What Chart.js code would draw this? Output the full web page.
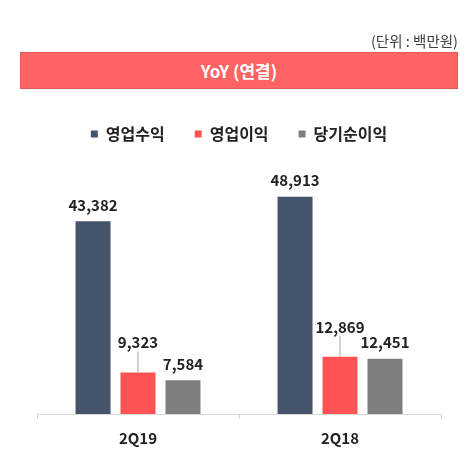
<!DOCTYPE html>
<html>
<head>
<meta charset="utf-8">
<script src="https://cdn.jsdelivr.net/npm/chart.js@4"></script>
<style>
  html, body { margin: 0; padding: 0; background: #fff; }
  #wrap { position: relative; width: 474px; height: 474px; font-family: "Noto Sans CJK KR", sans-serif; }
  #unit { position: absolute; right: 16px; top: 30px; font-size: 14.5px; color: #404040; }
  #banner {
    position: absolute; left: 20px; top: 52px; width: 436px; height: 35px;
    background: #ff6363; border: 1px solid #e05a5a;
    color: #fff; font-weight: 700; font-size: 17px;
    display: flex; align-items: center; justify-content: center;
  }
  canvas { position: absolute; left: 0; top: 0; }
</style>
</head>
<body>
<div id="wrap">
  <canvas id="yoyChart" width="474" height="474"></canvas>
  <div id="unit">(단위 : 백만원)</div>
  <div id="banner">YoY (연결)</div>
</div>
<script>
// chart data
const categories = ["2Q19", "2Q18"];
const seriesNames = ["영업수익", "영업이익", "당기순이익"];
const revenue = [43382, 48913];
const opProfit = [9323, 12869];
const netProfit = [7584, 12451];
const colors = ["#44546a", "#ff5252", "#7f7f7f"];

// value labels above bars; the operating profit labels sit higher with a leader line
const valueLabels = {
  id: "valueLabels",
  afterDatasetsDraw(chart) {
    const ctx = chart.ctx;
    ctx.save();
    ctx.font = "700 15px 'Noto Sans CJK KR', sans-serif";
    ctx.fillStyle = "#222";
    ctx.textAlign = "center";
    ctx.textBaseline = "middle";
    chart.data.datasets.forEach((ds, di) => {
      const meta = chart.getDatasetMeta(di);
      meta.data.forEach((bar, i) => {
        const text = ds.data[i].toLocaleString("en-US");
        const raised = di === 1;
        const ty = bar.y - (raised ? 30 : 16);
        if (raised) {
          ctx.strokeStyle = "#a6a6a6";
          ctx.lineWidth = 1;
          ctx.beginPath();
          ctx.moveTo(bar.x, ty + 9);
          ctx.lineTo(bar.x, bar.y);
          ctx.stroke();
        }
        ctx.fillText(text, bar.x, ty);
      });
    });
    ctx.restore();
  },
};

const ctx = document.getElementById("yoyChart").getContext("2d");

new Chart(ctx, {
  type: "bar",
  data: {
    labels: categories,
    datasets: [revenue, opProfit, netProfit].map((d, i) => ({
      label: seriesNames[i],
      data: d,
      backgroundColor: colors[i],
      categoryPercentage: 0.668,
      barPercentage: 0.778,
    })),
  },
  options: {
    responsive: false,
    animation: false,
    layout: { padding: { top: 96, left: 37, right: 33, bottom: 17 } },
    plugins: {
      legend: {
        position: "top",
        labels: {
          boxWidth: 7,
          boxHeight: 7,
          padding: 30,
          color: "#222",
          font: { family: "'Noto Sans CJK KR', sans-serif", size: 16, weight: "700" },
        },
      },
      tooltip: { enabled: false },
    },
    scales: {
      x: {
        grid: {
          offset: true,
          drawOnChartArea: false,
          drawTicks: true,
          tickLength: 5,
          color: "#d9d9d9",
        },
        border: { display: true, color: "#d9d9d9" },
        ticks: {
          color: "#222",
          padding: 10,
          font: { family: "'Noto Sans CJK KR', sans-serif", size: 15, weight: "700" },
        },
      },
      y: {
        display: false,
        min: 0,
        max: 59000,
      },
    },
  },
  plugins: [valueLabels],
});
</script>
</body>
</html>
